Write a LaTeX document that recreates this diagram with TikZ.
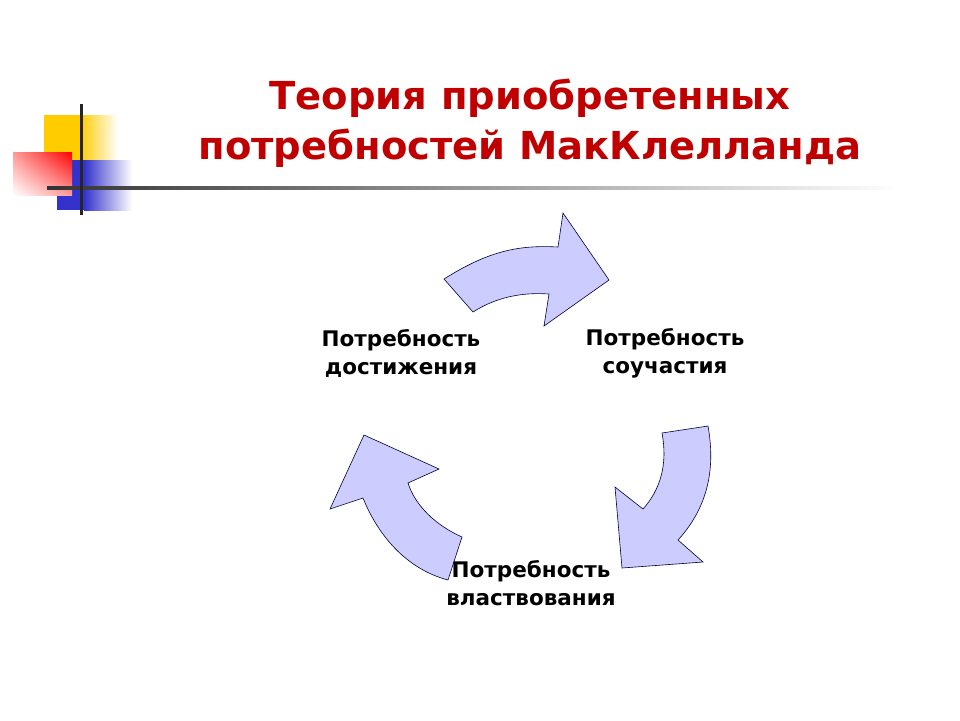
\documentclass[tikz,border=0pt]{standalone}
\usepackage{fontspec}
\setmainfont{DejaVu Sans}
\usetikzlibrary{shadings}
\definecolor{arrfill}{RGB}{204,204,255}
\definecolor{titlered}{RGB}{192,0,0}
\definecolor{yel}{RGB}{255,204,0}
\definecolor{blu}{RGB}{51,51,204}
\tikzset{
  cyc/.style={fill=arrfill,draw=black!80!blue,line width=0.6pt,line join=miter},
  lbl/.style={font=\fontsize{21.5}{28}\selectfont\bfseries,align=center},
}
\begin{document}
\begin{tikzpicture}[x=1pt,y=-1pt]
\useasboundingbox (0,0) rectangle (960,720);
% decoration
\fill[yel] (44,115) rectangle (80,160);
\shade[left color=yel,right color=white] (80,115) rectangle (118,160);
\fill[blu] (57,160) rectangle (84,210);
\shade[left color=blu,right color=white] (84,160) rectangle (132,210);
\shade[upper right=red,lower left=white,upper left=red!40,lower right=red!40] (13,152) rectangle (72,195);
\shade[left color=black!80,right color=white] (47,186.5) rectangle (900,189.5);
\fill[black!85] (79.5,104) rectangle (82.5,215);
% title
\node[font=\fontsize{38.5}{50}\selectfont\bfseries,text=titlered,align=center] (title) at (530,123) {Теория приобретенных\\потребностей МакКлелланда};
% arrows
\draw[cyc] (444,279) .. controls (490,250) and (520,245) .. (558,247) -- (563,213) -- (609,280) -- (544,326) -- (549,294) .. controls (520,292) and (495,298) .. (473,312) -- cycle;
\draw[cyc] (662,433) .. controls (668,465) and (660,490) .. (643,509) -- (615,487) -- (622,568) -- (703,562) -- (678,540) .. controls (710,505) and (715,465) .. (708,426) -- cycle;
\draw[cyc] (462,537) .. controls (435,525) and (415,505) .. (408,483) -- (439,469) -- (364,435) -- (330,509) -- (363,498) .. controls (380,540) and (410,570) .. (448,580) -- cycle;
% labels
\node[lbl] (a) at (401,353) {Потребность\\достижения};
\node[lbl] (b) at (665,353) {Потребность\\соучастия};
\node[lbl] (c) at (531,583) {Потребность\\властвования};
\end{tikzpicture}
\end{document}
